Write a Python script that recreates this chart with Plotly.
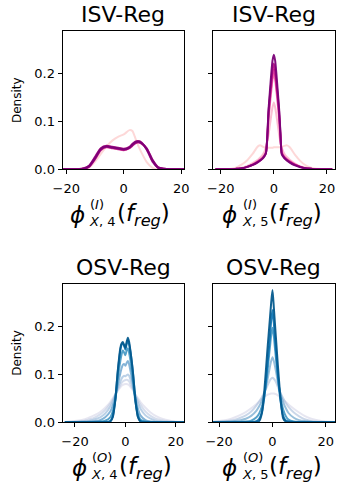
import plotly.graph_objects as go

W, H = 344, 494

# ---------------- data ----------------
# Top-left: ISV-Reg, phi_{X,4}
x_isv4 = [-22, -16, -14, -12, -10, -8, -6, -4, -2, 0, 2, 3, 4, 5, 6, 8, 10, 12, 14, 16, 22]
isv4_c1 = [0, 0, 0, 0.004, 0.016, 0.032, 0.048, 0.060, 0.068, 0.073, 0.082, 0.080, 0.066, 0.050, 0.037, 0.015, 0.003, 0, 0, 0, 0]
isv4_c2 = [0, 0, 0.001, 0.005, 0.021, 0.040, 0.046, 0.044, 0.042, 0.040, 0.044, 0.049, 0.054, 0.056, 0.054, 0.043, 0.019, 0.004, 0.001, 0, 0]
isv4_c3 = [0, 0, 0.002, 0.008, 0.026, 0.044, 0.049, 0.047, 0.045, 0.043, 0.047, 0.053, 0.058, 0.059, 0.057, 0.041, 0.016, 0.003, 0, 0, 0]
isv4_c4 = [0, 0, 0.001, 0.006, 0.022, 0.041, 0.047, 0.045, 0.043, 0.041, 0.045, 0.050, 0.055, 0.057, 0.055, 0.044, 0.020, 0.004, 0.001, 0, 0]
isv4_c5 = [0, 0, 0.001, 0.007, 0.024, 0.043, 0.048, 0.046, 0.044, 0.042, 0.046, 0.052, 0.057, 0.058, 0.056, 0.042, 0.018, 0.003, 0.001, 0, 0]

# Top-right: ISV-Reg, phi_{X,5}
x_isv5 = [-22, -16, -14, -12, -10, -8, -6, -5, -4, -3, -2, -1.5, -1, -0.5, 0, 0.5, 1, 1.5, 2, 2.5, 3, 4, 5, 6, 8, 10, 12, 14, 16, 22]
isv5_c1 = [0, 0.001, 0.004, 0.010, 0.019, 0.032, 0.048, 0.050, 0.047, 0.045, 0.045, 0.045, 0.045, 0.045, 0.046, 0.046, 0.046, 0.046, 0.046, 0.046, 0.047, 0.049, 0.050, 0.046, 0.030, 0.017, 0.008, 0.003, 0.001, 0]
isv5_c2 = [0, 0, 0.001, 0.003, 0.007, 0.013, 0.020, 0.025, 0.032, 0.045, 0.072, 0.092, 0.112, 0.130, 0.140, 0.130, 0.112, 0.092, 0.072, 0.056, 0.045, 0.032, 0.025, 0.020, 0.012, 0.006, 0.003, 0.001, 0, 0]
isv5_c3 = [0, 0, 0.001, 0.002, 0.005, 0.010, 0.017, 0.021, 0.026, 0.036, 0.105, 0.135, 0.162, 0.188, 0.200, 0.188, 0.162, 0.135, 0.105, 0.065, 0.036, 0.026, 0.021, 0.017, 0.010, 0.005, 0.002, 0.001, 0, 0]
isv5_c4 = [0, 0, 0.001, 0.002, 0.005, 0.009, 0.016, 0.020, 0.025, 0.034, 0.112, 0.145, 0.172, 0.198, 0.210, 0.198, 0.172, 0.145, 0.112, 0.068, 0.034, 0.025, 0.020, 0.016, 0.009, 0.005, 0.002, 0.001, 0, 0]
isv5_c5 = [0, 0, 0.001, 0.002, 0.005, 0.009, 0.015, 0.019, 0.024, 0.033, 0.120, 0.152, 0.182, 0.208, 0.222, 0.208, 0.182, 0.152, 0.120, 0.072, 0.033, 0.024, 0.019, 0.015, 0.009, 0.005, 0.002, 0.001, 0, 0]
isv5_c6 = [0, 0, 0.001, 0.002, 0.005, 0.009, 0.015, 0.019, 0.024, 0.033, 0.125, 0.162, 0.198, 0.228, 0.240, 0.228, 0.198, 0.162, 0.125, 0.075, 0.031, 0.023, 0.018, 0.014, 0.008, 0.004, 0.002, 0.001, 0, 0]

# Bottom-left: OSV-Reg, phi_{X,4}
x_osv4 = [-24, -20, -16, -14, -12, -10, -8, -6, -5, -4, -3, -2, -1.5, -1, -0.5, 0, 0.5, 1, 1.5, 2, 3, 4, 5, 6, 8, 10, 12, 14, 16, 20, 24]
osv4_c1 = [0, 0.002, 0.006, 0.010, 0.015, 0.021, 0.030, 0.042, 0.050, 0.058, 0.066, 0.073, 0.076, 0.078, 0.079, 0.080, 0.080, 0.079, 0.077, 0.074, 0.067, 0.058, 0.050, 0.042, 0.030, 0.020, 0.013, 0.008, 0.005, 0.001, 0]
osv4_c2 = [0, 0.001, 0.003, 0.006, 0.010, 0.016, 0.025, 0.038, 0.047, 0.057, 0.068, 0.078, 0.082, 0.085, 0.087, 0.088, 0.089, 0.088, 0.085, 0.080, 0.069, 0.057, 0.046, 0.036, 0.022, 0.013, 0.007, 0.004, 0.002, 0, 0]
osv4_c3 = [0, 0, 0.002, 0.003, 0.006, 0.010, 0.018, 0.032, 0.043, 0.056, 0.072, 0.085, 0.091, 0.095, 0.097, 0.096, 0.098, 0.100, 0.097, 0.090, 0.073, 0.055, 0.040, 0.028, 0.014, 0.007, 0.003, 0.001, 0, 0, 0]
osv4_c4 = [0, 0, 0, 0.001, 0.002, 0.004, 0.010, 0.022, 0.034, 0.052, 0.078, 0.102, 0.113, 0.120, 0.122, 0.118, 0.124, 0.128, 0.121, 0.108, 0.080, 0.050, 0.028, 0.014, 0.004, 0.001, 0, 0, 0, 0, 0]
osv4_c5 = [0, 0, 0, 0, 0, 0.001, 0.003, 0.010, 0.022, 0.045, 0.090, 0.128, 0.142, 0.150, 0.146, 0.140, 0.150, 0.155, 0.145, 0.130, 0.088, 0.042, 0.016, 0.005, 0.001, 0, 0, 0, 0, 0, 0]
osv4_c6 = [0, 0, 0, 0, 0, 0, 0, 0.002, 0.012, 0.048, 0.105, 0.150, 0.162, 0.165, 0.160, 0.152, 0.163, 0.172, 0.163, 0.148, 0.105, 0.048, 0.012, 0.002, 0, 0, 0, 0, 0, 0, 0]
osv4_c7 = [0, 0, 0, 0, 0, 0, 0, 0.001, 0.010, 0.045, 0.108, 0.155, 0.165, 0.168, 0.162, 0.156, 0.168, 0.177, 0.168, 0.150, 0.105, 0.045, 0.010, 0.001, 0, 0, 0, 0, 0, 0, 0]

# Bottom-right: OSV-Reg, phi_{X,5}
x_osv5 = [-24, -20, -16, -14, -12, -10, -8, -6, -5, -4, -3, -2, -1.5, -1, -0.5, 0, 0.5, 1, 1.5, 2, 3, 4, 5, 6, 8, 10, 12, 14, 16, 20, 24]
osv5_c1 = [0, 0.002, 0.006, 0.010, 0.015, 0.021, 0.029, 0.038, 0.043, 0.048, 0.053, 0.057, 0.058, 0.059, 0.060, 0.060, 0.060, 0.059, 0.058, 0.056, 0.052, 0.047, 0.042, 0.037, 0.028, 0.020, 0.013, 0.008, 0.005, 0.001, 0]
osv5_c2 = [0, 0.001, 0.003, 0.005, 0.009, 0.014, 0.022, 0.035, 0.043, 0.052, 0.063, 0.075, 0.081, 0.087, 0.091, 0.093, 0.091, 0.087, 0.081, 0.074, 0.061, 0.050, 0.040, 0.032, 0.020, 0.012, 0.006, 0.003, 0.001, 0, 0]
osv5_c3 = [0, 0, 0.001, 0.002, 0.004, 0.007, 0.013, 0.024, 0.033, 0.045, 0.062, 0.085, 0.100, 0.115, 0.128, 0.136, 0.128, 0.115, 0.100, 0.084, 0.060, 0.042, 0.029, 0.019, 0.009, 0.004, 0.002, 0.001, 0, 0, 0]
osv5_c4 = [0, 0, 0, 0, 0, 0.001, 0.003, 0.010, 0.018, 0.032, 0.058, 0.100, 0.128, 0.155, 0.182, 0.198, 0.180, 0.150, 0.122, 0.095, 0.052, 0.026, 0.012, 0.005, 0.001, 0, 0, 0, 0, 0, 0]
osv5_c5 = [0, 0, 0, 0, 0, 0, 0, 0.002, 0.007, 0.020, 0.055, 0.115, 0.145, 0.178, 0.212, 0.235, 0.208, 0.170, 0.135, 0.100, 0.045, 0.013, 0.003, 0.001, 0, 0, 0, 0, 0, 0, 0]
osv5_c6 = [0, 0, 0, 0, 0, 0, 0, 0, 0.002, 0.018, 0.070, 0.145, 0.180, 0.215, 0.250, 0.277, 0.240, 0.200, 0.160, 0.120, 0.050, 0.008, 0.001, 0, 0, 0, 0, 0, 0, 0, 0]

x_ticks = [-20, 0, 20]
y_ticks = [0.0, 0.1, 0.2]
titles = ["ISV-Reg", "ISV-Reg", "OSV-Reg", "OSV-Reg"]

isv_colors4 = ["rgba(251,190,190,0.6)", "rgba(221,52,151,0.9)", "rgba(174,1,126,0.9)", "rgba(150,1,122,0.9)", "rgba(122,1,119,0.9)"]
isv_colors5 = ["rgba(251,190,190,0.6)", "rgba(247,150,180,0.6)", "rgba(240,90,160,0.8)", "rgba(210,40,150,0.85)", "rgba(174,1,126,0.9)", "rgba(122,1,119,0.95)"]
osv_colors4 = ["rgba(200,200,225,0.45)", "rgba(180,195,222,0.55)", "rgba(150,185,218,0.65)", "rgba(100,160,205,0.8)", "rgba(54,144,192,0.85)", "rgba(5,112,176,0.9)", "rgba(4,90,141,0.95)"]
osv_colors5 = ["rgba(200,200,225,0.45)", "rgba(166,189,219,0.6)", "rgba(116,169,207,0.75)", "rgba(54,144,192,0.85)", "rgba(5,112,176,0.9)", "rgba(4,90,141,0.95)"]

panels = [
    (x_isv4, [isv4_c1, isv4_c2, isv4_c3, isv4_c4, isv4_c5], isv_colors4),
    (x_isv5, [isv5_c1, isv5_c2, isv5_c3, isv5_c4, isv5_c5, isv5_c6], isv_colors5),
    (x_osv4, [osv4_c1, osv4_c2, osv4_c3, osv4_c4, osv4_c5, osv4_c6, osv4_c7], osv_colors4),
    (x_osv5, [osv5_c1, osv5_c2, osv5_c3, osv5_c4, osv5_c5, osv5_c6], osv_colors5),
]

# ---------------- layout (pixels) ----------------
def px(x):
    return x / W

def py(y):
    return 1 - y / H

xdoms = [(55, 182), (212, 340), (55, 182), (212, 340)]
ydoms = [(32, 172), (32, 172), (289, 429), (289, 429)]
xranges = [[-21.3, 21.0], [-23.0, 23.1], [-24.9, 23.3], [-22.4, 23.5]]
yrange = [0, 0.289]

fig = go.Figure()
FONT = "DejaVu Sans"

for i, (xs, curves, cols) in enumerate(panels):
    ax = "" if i == 0 else str(i + 1)
    for ys, c in zip(curves, cols):
        fig.add_trace(go.Scatter(
            x=xs, y=ys, mode="lines",
            line=dict(color=c, width=2, shape="spline", smoothing=0.6),
            xaxis="x" + ax, yaxis="y" + ax, showlegend=False, hoverinfo="skip",
        ))
    common = dict(showline=True, mirror=True, linecolor="black", linewidth=1,
                  ticks="outside", ticklen=4, tickwidth=1, tickcolor="black",
                  showgrid=False, zeroline=False,
                  tickfont=dict(family=FONT, size=13, color="black"))
    fig.layout["xaxis" + ax] = dict(domain=[px(xdoms[i][0]), px(xdoms[i][1])],
                                    range=xranges[i], tickvals=x_ticks,
                                    ticklabelstandoff=3,
                                    anchor="y" + ax, **common)
    fig.layout["yaxis" + ax] = dict(domain=[py(ydoms[i][1]), py(ydoms[i][0])],
                                    range=yrange, tickvals=y_ticks, tickformat=".1f",
                                    showticklabels=(i % 2 == 0),
                                    anchor="x" + ax, **common)

annotations = []
title_y = [15, 15, 272, 272]
for i in range(4):
    cx = (xdoms[i][0] + xdoms[i][1]) / 2
    annotations.append(dict(text=titles[i], x=px(cx), y=py(title_y[i]), xref="paper", yref="paper",
                            xanchor="center", yanchor="middle", showarrow=False,
                            font=dict(family=FONT, size=22, color="black")))
    if i % 2 == 0:
        cy = (ydoms[i][0] + ydoms[i][1]) / 2
        annotations.append(dict(text="Density", x=px(8), y=py(cy), xref="paper", yref="paper",
                                xanchor="center", yanchor="middle", textangle=-90, showarrow=False,
                                font=dict(family=FONT, size=12, color="black")))

# x labels: phi^{(I/O)}_{X,k}(f_reg); stacked super/subscript as a two-line block
lab_left = [62, 221, 64, 221]
lab_cy = [219, 219, 476, 476]
sups = ["(<i>I</i>)", "(<i>I</i>)", "(<i>O</i>)", "(<i>O</i>)"]
subs = ["<i>X</i>, 4", "<i>X</i>, 5", "<i>X</i>, 4", "<i>X</i>, 5"]
for i in range(4):
    L, C = lab_left[i], lab_cy[i]
    annotations.append(dict(text="<i>ϕ</i>", x=px(L - 1), y=py(C), xref="paper", yref="paper",
                            xanchor="left", yanchor="middle", showarrow=False,
                            font=dict(family=FONT, size=23, color="black")))
    annotations.append(dict(text=sups[i] + "<br>" + subs[i], x=px(L + 19), y=py(C - 2.5),
                            xref="paper", yref="paper", align="left",
                            xanchor="left", yanchor="middle", showarrow=False,
                            font=dict(family=FONT, size=13, color="black")))
    annotations.append(dict(text="(<i>f</i><sub><i>reg</i></sub>)", x=px(L + 48), y=py(C), xref="paper", yref="paper",
                            xanchor="left", yanchor="middle", showarrow=False,
                            font=dict(family=FONT, size=23, color="black")))

fig.update_layout(width=W, height=H, margin=dict(l=0, r=0, t=0, b=0),
                  paper_bgcolor="white", plot_bgcolor="white",
                  annotations=annotations, showlegend=False)

fig.write_html("out.html",
               config={"displayModeBar": False, "staticPlot": True},
               post_script="document.body.style.margin='0';document.body.style.overflow='hidden';")
